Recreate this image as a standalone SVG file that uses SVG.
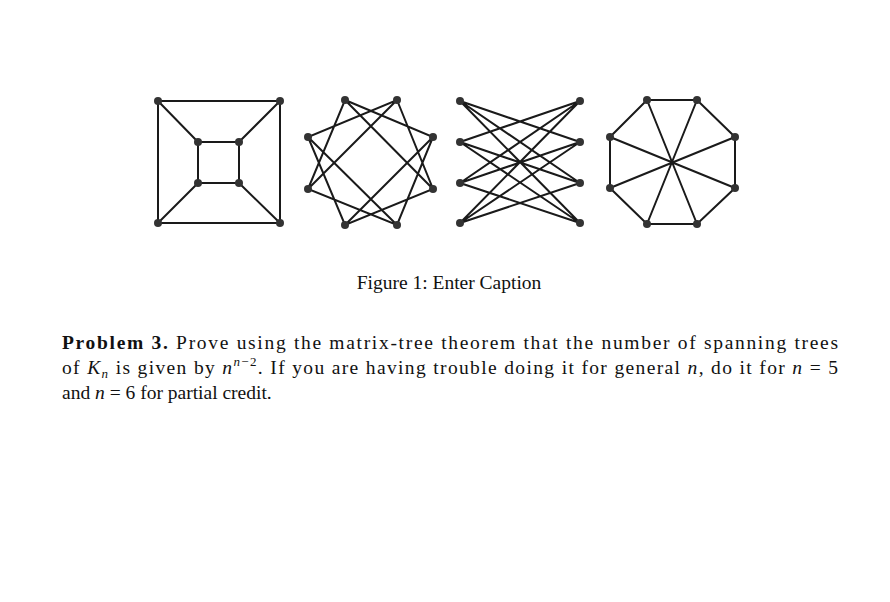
<svg xmlns="http://www.w3.org/2000/svg" width="890" height="602" viewBox="0 0 890 602">
<style>
.e{stroke:#1a1a1a;stroke-width:2;fill:none}
.n{fill:#333}
text{font-family:"Liberation Serif",serif;font-size:19.5px;fill:#111}
i{font-style:italic}
</style>
<rect width="890" height="602" fill="#fff"/>
<g id="connectors" class="e">
<path d="M158,101H280V223H158Z M198,142H239V183H198Z M158,101L198,142 M280,101L239,142 M158,223L198,183 M280,223L239,183"/>
<path d="M345,100L433,137L397,225L308,189Z M397,100L433,189L345,225L308,137Z M345,100L433,189 M308,137L397,225 M397,100L308,189 M433,137L345,225"/>
<path d="M460,101L580,142M460,101L580,183M460,101L580,223 M460,142L580,101M460,142L580,183M460,142L580,223 M460,183L580,101M460,183L580,142M460,183L580,223 M460,223L580,101M460,223L580,142M460,223L580,183"/>
<path d="M647,100L697,100L735,137L735,188L697,224L647,224L610,188L610,137Z M647,100L697,224 M697,100L647,224 M735,137L610,188 M735,188L610,137"/>
</g>
<g id="nodes" class="n">
<circle cx="158" cy="101" r="4"/><circle cx="280" cy="101" r="4"/><circle cx="158" cy="223" r="4"/><circle cx="280" cy="223" r="4"/>
<circle cx="198" cy="142" r="4"/><circle cx="239" cy="142" r="4"/><circle cx="198" cy="183" r="4"/><circle cx="239" cy="183" r="4"/>
<circle cx="345" cy="100" r="4"/><circle cx="397" cy="100" r="4"/><circle cx="433" cy="137" r="4"/><circle cx="433" cy="189" r="4"/><circle cx="397" cy="225" r="4"/><circle cx="345" cy="225" r="4"/><circle cx="308" cy="189" r="4"/><circle cx="308" cy="137" r="4"/>
<circle cx="460" cy="101" r="4"/><circle cx="460" cy="142" r="4"/><circle cx="460" cy="183" r="4"/><circle cx="460" cy="223" r="4"/>
<circle cx="580" cy="101" r="4"/><circle cx="580" cy="142" r="4"/><circle cx="580" cy="183" r="4"/><circle cx="580" cy="223" r="4"/>
<circle cx="647" cy="100" r="4"/><circle cx="697" cy="100" r="4"/><circle cx="735" cy="137" r="4"/><circle cx="735" cy="188" r="4"/><circle cx="697" cy="224" r="4"/><circle cx="647" cy="224" r="4"/><circle cx="610" cy="188" r="4"/><circle cx="610" cy="137" r="4"/>
</g>
<text x="449" y="289" text-anchor="middle">Figure 1: Enter Caption</text>
<text x="62" y="349" textLength="776" lengthAdjust="spacing"><tspan font-weight="bold">Problem 3.</tspan> Prove using the matrix-tree theorem that the number of spanning trees</text>
<text x="62" y="374" textLength="776" lengthAdjust="spacing">of <tspan font-style="italic">K</tspan><tspan font-style="italic" font-size="13" dy="4">n</tspan><tspan dy="-4"> is given by </tspan><tspan font-style="italic">n</tspan><tspan font-size="13" dy="-8"><tspan font-style="italic">n</tspan>−2</tspan><tspan dy="8">. If you are having trouble doing it for general </tspan><tspan font-style="italic">n</tspan>, do it for <tspan font-style="italic">n</tspan> = 5</text>
<text x="62" y="399">and <tspan font-style="italic">n</tspan> = 6 for partial credit.</text>
</svg>
